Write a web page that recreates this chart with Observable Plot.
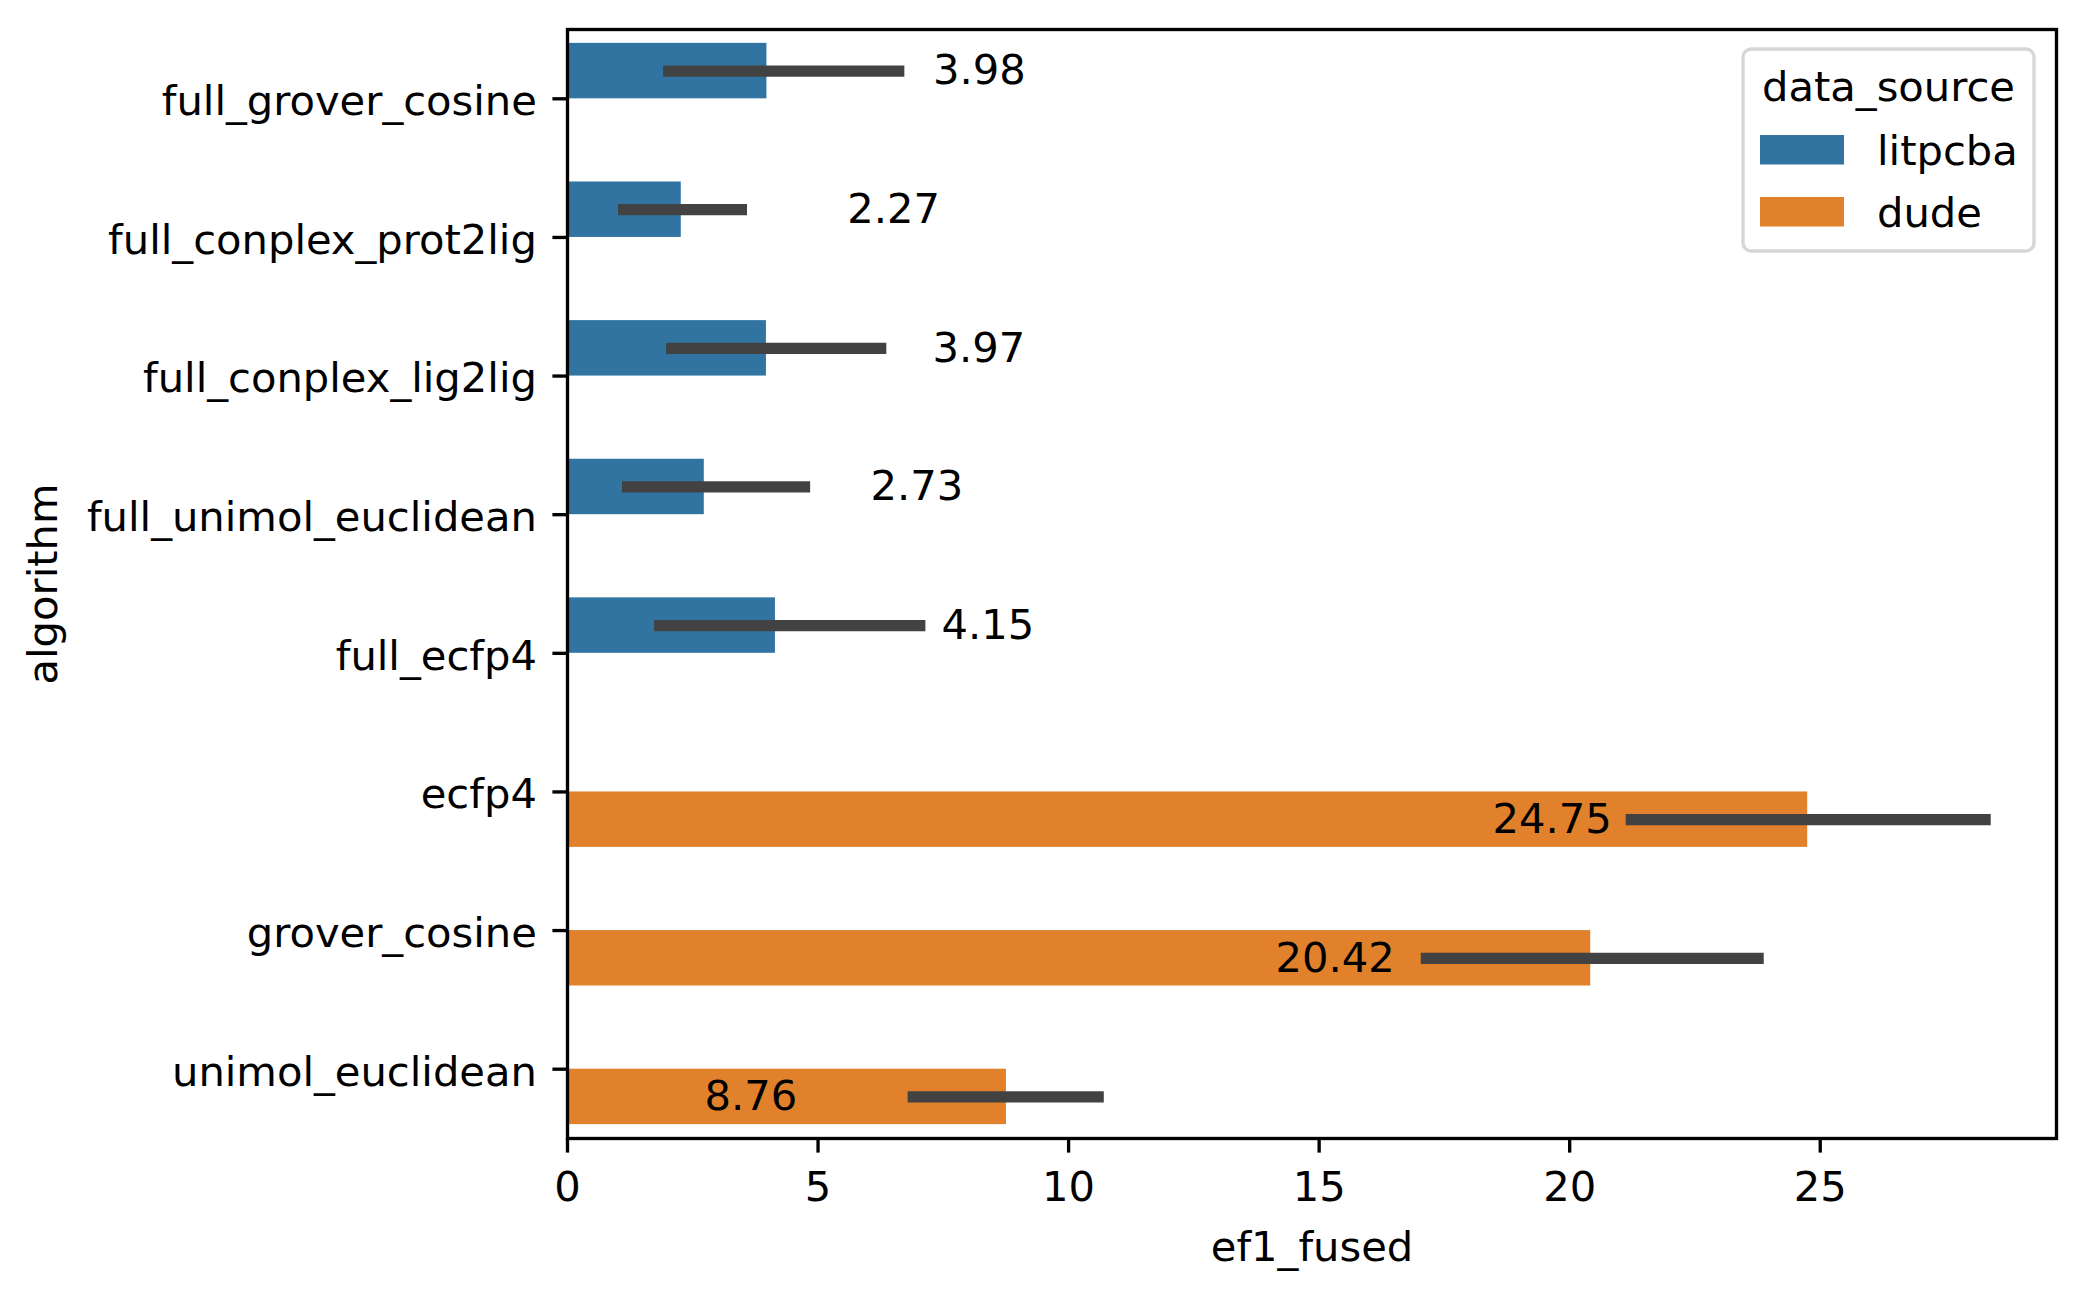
<!DOCTYPE html>
<html>
<head>
<meta charset="utf-8">
<script src="https://cdn.jsdelivr.net/npm/d3@7"></script>
<script src="https://cdn.jsdelivr.net/npm/@observablehq/plot@0.6"></script>
<style>
  html, body { margin: 0; padding: 0; background: white; overflow: hidden; }
  #wrap { position: relative; width: 2085px; height: 1299px; }
  #wrap svg { display: block; }
  g[aria-label="x-axis tick"], g[aria-label="y-axis tick"] { stroke-width: 3.33px; }
  .tick line { stroke-width: 3.33px; }
  #legend { position: absolute; left: 0; top: 0; pointer-events: none; }
</style>
</head>
<body>
<div id="wrap"></div>
<script>
// ---- data ----
const algorithms = [
  "full_grover_cosine",
  "full_conplex_prot2lig",
  "full_conplex_lig2lig",
  "full_unimol_euclidean",
  "full_ecfp4",
  "ecfp4",
  "grover_cosine",
  "unimol_euclidean"
];
const dataSources = ["litpcba", "litpcba", "litpcba", "litpcba", "litpcba", "dude", "dude", "dude"];
const ef1Fused = [3.98, 2.27, 3.97, 2.73, 4.15, 24.75, 20.42, 8.76];
const ciLow  = [2.03, 1.13, 2.09, 1.21, 1.85, 21.24, 17.15, 6.91];
const ciHigh = [6.62, 3.48, 6.26, 4.74, 7.04, 28.30, 23.77, 10.60];
const hueOrder = ["litpcba", "dude"];
const hueColors = ["#3274a1", "#e1812c"];
const xTicks = [0, 5, 10, 15, 20, 25];

// ---- table built from the arrays ----
const rows = algorithms.map((a, i) => {
  const src = dataSources[i];
  const yc = i + (hueOrder.indexOf(src) === 0 ? -0.2 : 0.2);
  return { algorithm: a, source: src, value: ef1Fused[i], lo: ciLow[i], hi: ciHigh[i], yc };
});

const FS = 41.67;
const xMax = d3.max(ciHigh) * 1.05;
const yTickValues = d3.range(algorithms.length);
const yFmt = i => algorithms[i];
const hasAxisMarks = typeof Plot.axisY === "function";

const yAxisMarks = hasAxisMarks ? [
  Plot.axisY({ ticks: yTickValues, tickFormat: null, text: null, tickSize: 14.6, label: null, strokeWidth: 3.33 }),
  Plot.axisY({ ticks: yTickValues, tickFormat: yFmt, tickSize: 0, tickPadding: 30.6, dy: 3, label: null })
] : [];

const chart = Plot.plot({
  width: 2085,
  height: 1299,
  marginLeft: 567,
  marginRight: 29,
  marginTop: 29,
  marginBottom: 161,
  style: { fontFamily: "DejaVu Sans", fontSize: FS + "px", background: "white", color: "black" },
  x: {
    domain: [0, xMax],
    ticks: xTicks,
    tickFormat: d => String(d),
    tickSize: 14.6,
    tickPadding: 18,
    label: null
  },
  y: Object.assign({
    domain: [-0.5, algorithms.length - 0.5],
    reverse: true,
    label: null
  }, hasAxisMarks ? { axis: null } : {
    ticks: yTickValues,
    tickFormat: yFmt,
    tickSize: 14.6,
    tickPadding: 16
  }),
  color: { domain: hueOrder, range: hueColors },
  marks: [
    Plot.rect(rows, {
      x1: () => 0,
      x2: "value",
      y1: d => d.yc - 0.2,
      y2: d => d.yc + 0.2,
      fill: "source"
    }),
    Plot.ruleY(rows, {
      y: "yc",
      x1: "lo",
      x2: "hi",
      stroke: "#424242",
      strokeWidth: 11.25,
      strokeLinecap: "square"
    }),
    Plot.text(rows, {
      x: d => d.source === "litpcba" ? d.value + 4.24 : d.value - 5.1,
      y: "yc",
      text: d => d.value.toFixed(2),
      fill: "black",
      textAnchor: "middle"
    }),
    ...yAxisMarks,
    Plot.text(["ef1_fused"], {
      frameAnchor: "bottom",
      text: d => d,
      dy: 122,
      lineAnchor: "bottom",
      fill: "black"
    }),
    Plot.text(["algorithm"], {
      frameAnchor: "left",
      text: d => d,
      rotate: -90,
      dx: -511,
      lineAnchor: "bottom",
      textAnchor: "middle",
      fill: "black"
    }),
    Plot.frame({ stroke: "black", strokeWidth: 3.33 })
  ]
});

const wrap = document.getElementById("wrap");
wrap.appendChild(chart);

// ---- legend (matplotlib style, inside the axes, upper right) ----
const leg = d3.select(wrap).append("svg")
  .attr("id", "legend")
  .attr("width", 2085).attr("height", 1299)
  .style("font-family", "DejaVu Sans")
  .style("font-size", FS + "px");
leg.append("rect")
  .attr("x", 1743).attr("y", 49).attr("width", 291).attr("height", 202)
  .attr("rx", 8.3).attr("ry", 8.3)
  .attr("fill", "white").attr("fill-opacity", 0.8)
  .attr("stroke", "#cccccc").attr("stroke-opacity", 0.8).attr("stroke-width", 3.33);
leg.append("text")
  .attr("x", 1888.5).attr("y", 101).attr("text-anchor", "middle")
  .text("data_source");
hueOrder.forEach((h, k) => {
  const top = 135 + k * 62;
  leg.append("rect")
    .attr("x", 1760).attr("y", top).attr("width", 84).attr("height", 29.5)
    .attr("fill", hueColors[k]);
  leg.append("text")
    .attr("x", 1877).attr("y", top + 29.5)
    .text(h);
});
</script>
</body>
</html>
